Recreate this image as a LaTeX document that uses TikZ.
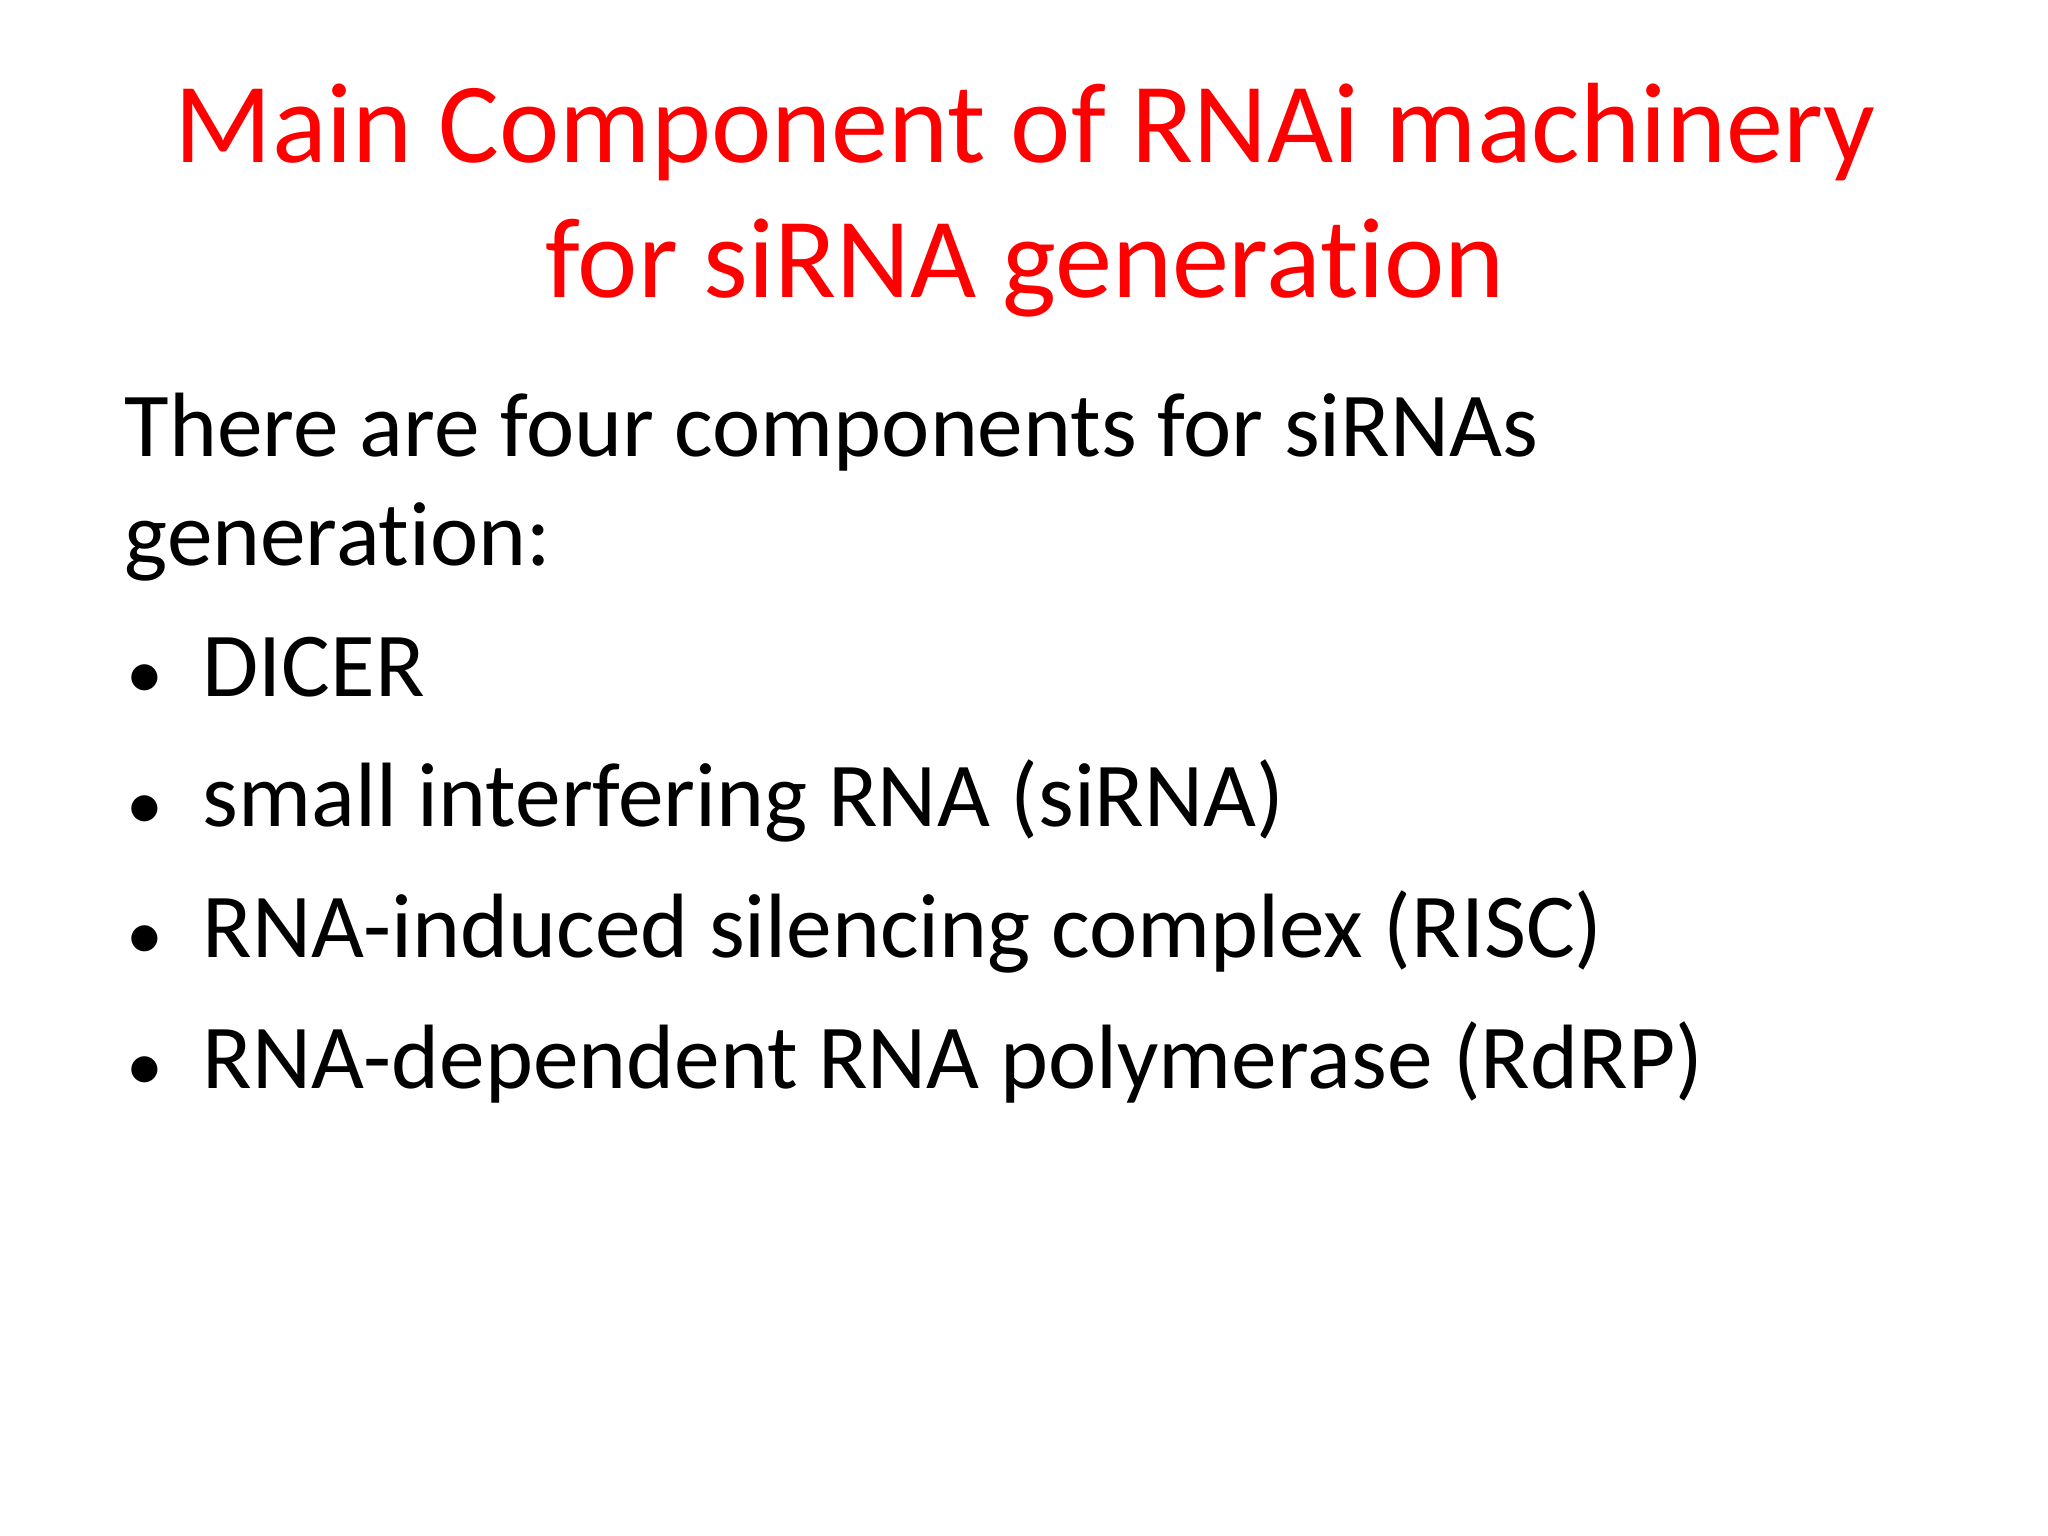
\documentclass[tikz,border=0pt]{standalone}
\usepackage{fontspec}
\setmainfont{Carlito}[Ligatures=NoCommon]
\definecolor{titlered}{RGB}{255,0,0}
\begin{document}
\begin{tikzpicture}[x=1cm,y=1cm,
  ttl/.style={anchor=base,text=titlered,font=\fontsize{32.5pt}{40pt}\selectfont,inner sep=0pt},
  body/.style={anchor=base west,font=\fontsize{26pt}{32pt}\selectfont,inner sep=0pt},
  bul/.style={anchor=base west,font=\fontsize{21pt}{32pt}\selectfont,inner sep=0pt}]
\useasboundingbox[fill=white] (0,0) rectangle (20.48,-15.36);
\node[ttl] (t1) at (10.25,-1.63) {Main Component of RNAi machinery};
\node[ttl] (t2) at (10.25,-2.98) {for siRNA generation};
\node[body] (p1) at (1.24,-4.57) {There are four components for siRNAs};
\node[body] (p2) at (1.24,-5.66) {generation:};
\foreach \y/\t/\n in {-6.96/DICER/b1,-8.27/small interfering RNA (siRNA)/b2,-9.57/RNA-induced silencing complex (RISC)/b3,-10.88/RNA-dependent RNA polymerase (RdRP)/b4}{
  \node[bul] (\n d) at (1.26,\y-0.02) {•};
  \node[body] (\n) at (2.02,\y) {\t};
}
\end{tikzpicture}
\end{document}
